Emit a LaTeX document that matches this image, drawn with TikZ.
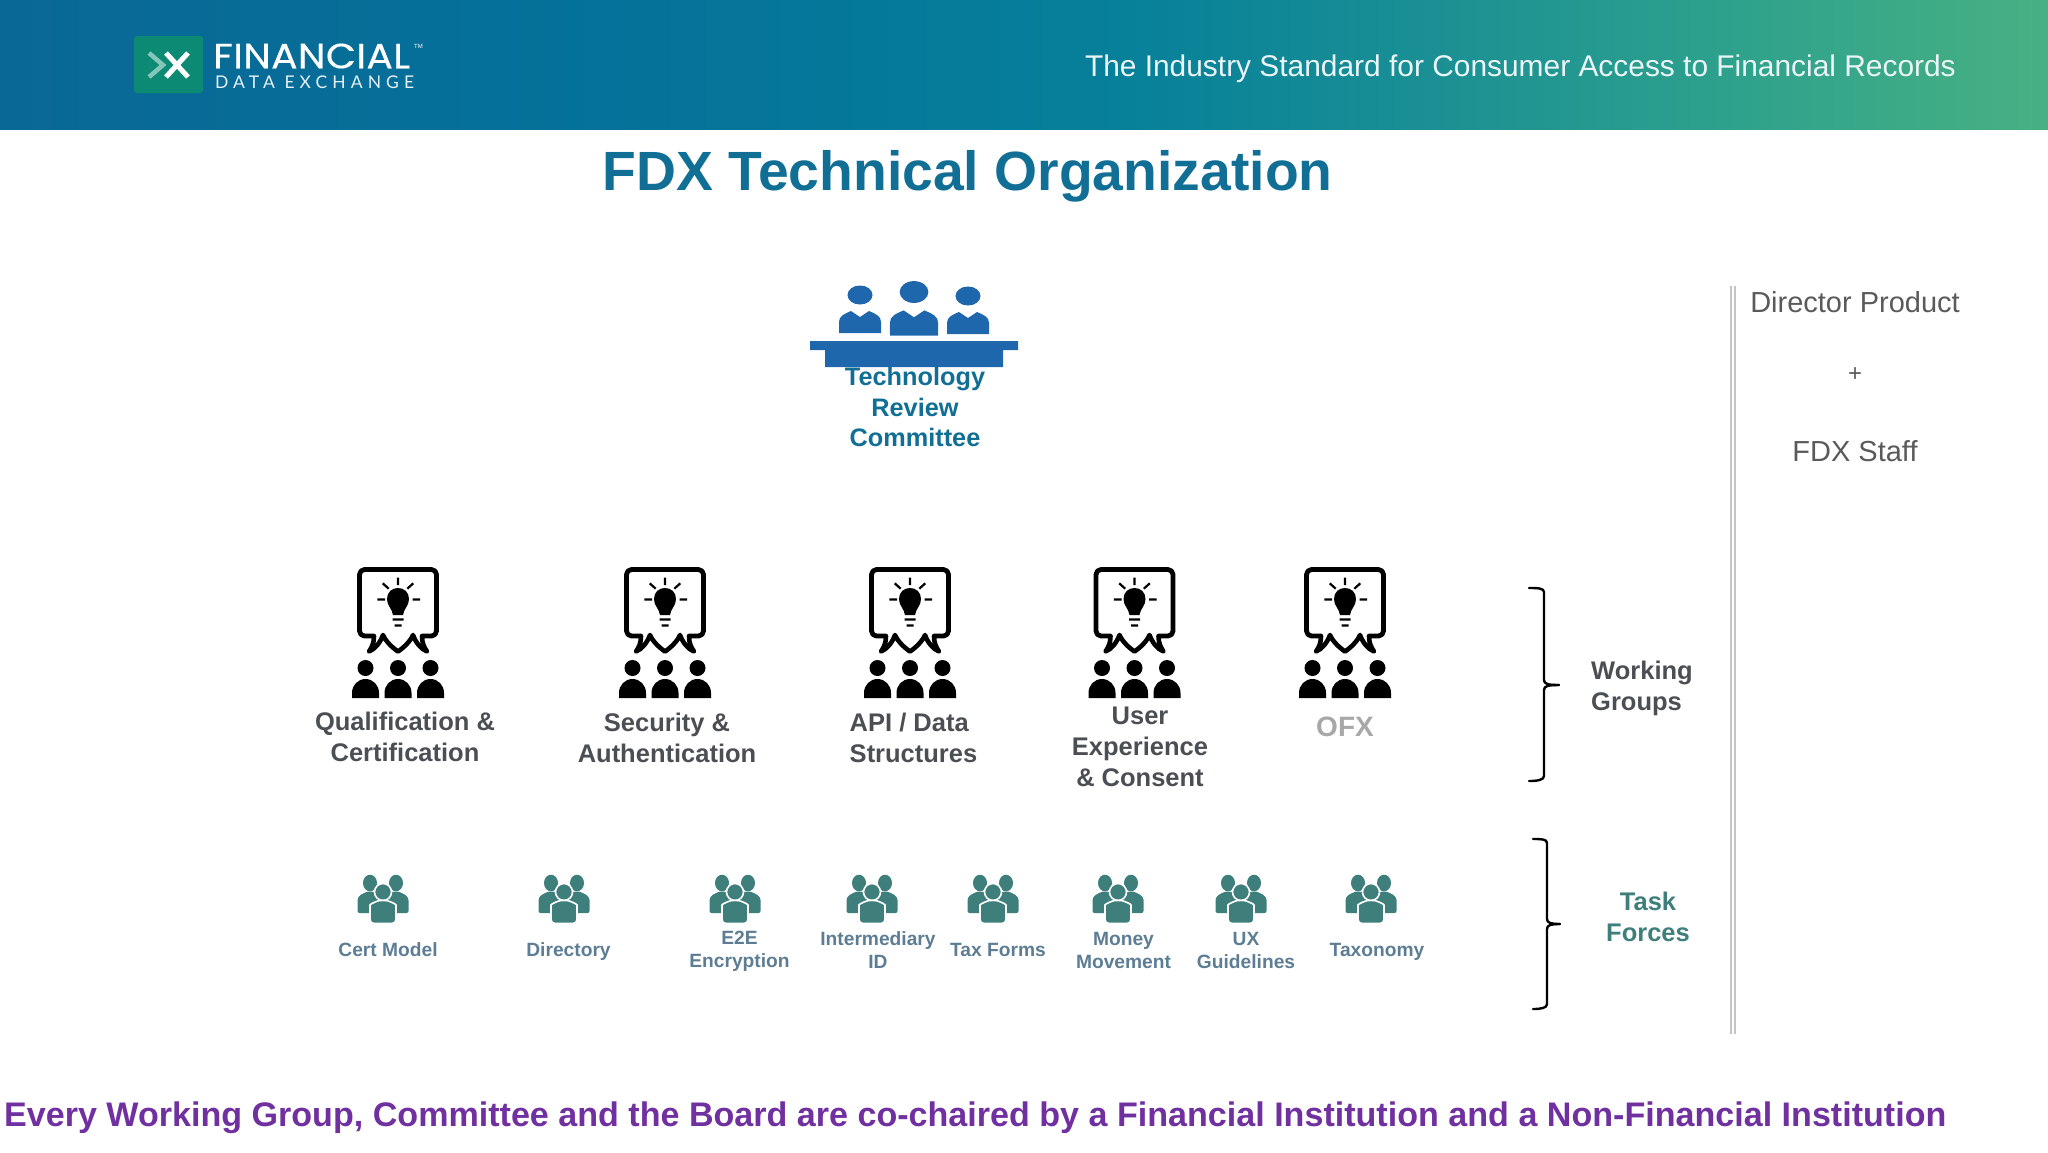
\documentclass[tikz,border=0pt]{standalone}
\usepackage{fontspec}
\setmainfont{Liberation Sans}
\newfontfamily\logofont[FakeStretch=1.12,LetterSpace=1,FakeBold=0.4]{Poppins}
\newfontfamily\logosub[LetterSpace=29]{Lato}
\usepackage{tikz}
\definecolor{hdrblue}{HTML}{0A6896}
\definecolor{hdrbluetwo}{HTML}{04729A}
\definecolor{hdrmid}{HTML}{07809A}
\definecolor{hdrteal}{HTML}{1A9094}
\definecolor{hdrleaf}{HTML}{2FA28C}
\definecolor{hdrgreen}{HTML}{48B183}
\definecolor{logogreen}{HTML}{0D8A73}
\definecolor{titleblue}{HTML}{116F95}
\definecolor{boardblue}{HTML}{1F67AD}
\definecolor{wgrey}{HTML}{4B4F54}
\definecolor{sidegrey}{HTML}{5A5A5A}
\definecolor{ofxgrey}{HTML}{A8A8A8}
\definecolor{tfgreen}{HTML}{3E7F7C}
\definecolor{tfblue}{HTML}{5C7D93}
\definecolor{ruleg}{HTML}{C4C4C4}
\definecolor{purp}{HTML}{7030A0}
\pgfdeclarehorizontalshading{hdrshade}{100bp}{color(0bp)=(hdrblue); color(25bp)=(hdrblue); color(40bp)=(hdrbluetwo); color(52.5bp)=(hdrmid); color(60bp)=(hdrteal); color(67.5bp)=(hdrleaf); color(75bp)=(hdrgreen); color(100bp)=(hdrgreen)}
\tikzset{
 wglabel/.style={align=center,font=\fontsize{25.5}{31}\selectfont\bfseries,text=wgrey,inner sep=0pt},
 tflabel/.style={align=center,font=\fontsize{19.2}{23}\selectfont\bfseries,text=tfblue,inner sep=0pt},
 sidelabel/.style={align=center,font=\fontsize{29}{35}\selectfont,text=sidegrey,inner sep=0pt},
 bracket/.style={line width=2.4pt,line join=round,line cap=round},
 boardperson/.pic={
  \fill[boardblue] (0,0) ellipse (12.5 and 9.5);
  \fill[boardblue] (-21,38) -- (-21,27) .. controls (-21,21) and (-16,19) .. (-9,16) -- (0,22) -- (9,16) .. controls (16,19) and (21,21) .. (21,27) -- (21,38) -- cycle;
 },
 wgicon/.pic={
  \draw[line width=4.8pt,line join=round,rounded corners=5pt] (-24,69) -- (-38.5,69) -- (-38.5,2.5) -- (38.5,2.5) -- (38.5,69) -- (24,69);
  \draw[line width=4.6pt,line join=round,line cap=round] (-24,69) .. controls (-24,76) and (-26,80) .. (-29,84.5) .. controls (-23,82) and (-18,76) .. (-15,68) .. controls (-12,75) and (-5,81) .. (0,84.5) .. controls (5,81) and (12,75) .. (15,68) .. controls (18,76) and (23,82) .. (29,84.5) .. controls (26,80) and (24,76) .. (24,69);
  \fill (-5,48) .. controls (-6,41) and (-11,39) .. (-11,32) .. controls (-11,25) and (-6,21) .. (0,21) .. controls (6,21) and (11,25) .. (11,32) .. controls (11,39) and (6,41) .. (5,48) -- cycle;
  \draw[line width=2.2pt] (-5.5,52.5) -- (5.5,52.5) (-3.5,58.5) -- (3.5,58.5) (0,10.5) -- (0,18) (-20.7,32.5) -- (-13,32.5) (14.7,32.5) -- (22,32.5) (-15.3,16.3) -- (-9.3,21.7) (15.3,16.3) -- (9.3,21.7);
  \fill (-32.5,101) circle (8) (0,101) circle (8) (32.5,101) circle (8);
  \fill (-46,131) -- (-46,126) .. controls (-46,118) and (-40,112) .. (-32.5,112) .. controls (-25,112) and (-19,118) .. (-19,126) -- (-19,131) -- cycle;
  \fill (-13.5,131) -- (-13.5,126) .. controls (-13.5,118) and (-7.5,112) .. (0,112) .. controls (7.5,112) and (13.5,118) .. (13.5,126) -- (13.5,131) -- cycle;
  \fill (19,131) -- (19,126) .. controls (19,118) and (25,112) .. (32.5,112) .. controls (40,112) and (46,118) .. (46,126) -- (46,131) -- cycle;
 },
 tficon/.pic={
  \fill[tfgreen] (-13,23) ellipse (7 and 8.3) (13,23) ellipse (7 and 8.3);
  \fill[tfgreen,rounded corners=2pt] (-25.5,53) -- (-25.5,42) .. controls (-25.5,36) and (-20,33) .. (-13,31) .. controls (-6,33) and (0,36) .. (0,42) -- (0,53) -- cycle;
  \fill[tfgreen,rounded corners=2pt] (0,53) -- (0,42) .. controls (0,36) and (6,33) .. (13,31) .. controls (20,33) and (25.5,36) .. (25.5,42) -- (25.5,53) -- cycle;
  \filldraw[fill=tfgreen,draw=white,line width=1.6pt] (0,32) circle (8.5);
  \filldraw[fill=tfgreen,draw=white,line width=1.6pt,rounded corners=4pt] (-13,63.5) -- (-13,49) .. controls (-13,44) and (-6,41) .. (0,40) .. controls (6,41) and (13,44) .. (13,49) -- (13,63.5) -- cycle;
 }
}
\begin{document}
\begin{tikzpicture}[x=1pt,y=-1pt]
\useasboundingbox (0,0) rectangle (2048,1152);
\shade[shading=hdrshade] (0,0) rectangle (2048,129);
\fill[logogreen,rounded corners=3pt] (134,36) rectangle (203,93);
\draw[white!50!logogreen,line width=4.5pt] (149,53) -- (163,65) -- (149,77);
\draw[white,line width=5pt] (166,53) -- (188,77) (188,53) -- (166,77);
\node[anchor=west,text=white,inner sep=0pt,font=\fontsize{35}{35}\logofont] (logoa) at (213,56) {FINANCIAL};
\node[anchor=south west,text=white,inner sep=0pt,font=\fontsize{6}{6}\selectfont] (logotm) at (414,49) {TM};
\node[anchor=west,text=white!90!hdrblue,inner sep=0pt,font=\fontsize{17.5}{18}\logosub] (logob) at (215,82) {DATA EXCHANGE};
\node[anchor=east,text=white!92!hdrmid,inner sep=0pt,font=\fontsize{29.9}{32}\selectfont] (tagline) at (1956,68.5) {The Industry Standard for Consumer Access to Financial Records};
\node[text=titleblue,inner sep=0pt,font=\fontsize{55.3}{60}\selectfont\bfseries] (title) at (967.5,176) {FDX Technical Organization};

\pic at (860,295) {boardperson};
\pic[scale=1.15] at (914,292) {boardperson};
\pic at (968,296) {boardperson};
\fill[boardblue] (810,341) -- (1018,341) -- (1018,350) -- (1003,350) -- (1003,367) -- (825,367) -- (825,350) -- (810,350) -- cycle;
\node[align=center,text=titleblue,inner sep=0pt,font=\fontsize{25.3}{30.5}\selectfont\bfseries] (trc) at (915,407) {Technology\\Review\\Committee};

\pic at (398,567) {wgicon};
\pic at (665,567) {wgicon};
\pic at (910,567) {wgicon};
\pic at (1134.5,567) {wgicon};
\pic at (1345,567) {wgicon};
\node[wglabel] (qual) at (405,737) {Qualification \&\\Certification};
\node[wglabel] (sec) at (667,738) {Security \&\\Authentication};
\node[wglabel,align=left] (api) at (913.5,738) {API / Data\\Structures};
\node[wglabel] (ux) at (1140,747) {User\\Experience\\\& Consent};
\node[wglabel,text=ofxgrey,font=\fontsize{28}{31}\selectfont\bfseries] (ofx) at (1345,727) {OFX};

\pic at (383,860) {tficon};
\pic at (564,860) {tficon};
\pic at (735,860) {tficon};
\pic at (872,860) {tficon};
\pic at (993,860) {tficon};
\pic at (1118,860) {tficon};
\pic at (1241,860) {tficon};
\pic at (1371,860) {tficon};
\node[tflabel] (cert) at (388,950) {Cert Model};
\node[tflabel] (dir) at (568.5,952) {Directory};
\node[tflabel] (e2e) at (739.5,951.5) {E2E\\Encryption};
\node[tflabel] (iid) at (878,950) {Intermediary\\ID};
\node[tflabel] (tax) at (998,950) {Tax Forms};
\node[tflabel] (money) at (1123.5,950) {Money\\Movement};
\node[tflabel] (uxg) at (1246,950) {UX\\Guidelines};
\node[tflabel] (txn) at (1377,952) {Taxonomy};

\draw[bracket] (1529,588) .. controls (1537,588) and (1544,588) .. (1544,592) -- (1544,680) .. controls (1544,684) and (1548,685) .. (1559,685);
\draw[bracket] (1559,685) .. controls (1548,685) and (1544,686) .. (1544,690) -- (1544,776) .. controls (1544,780) and (1537,781) .. (1529,781);
\draw[bracket] (1533,839) .. controls (1541,839) and (1547,839) .. (1547,843) -- (1547,919) .. controls (1547,923) and (1551,924) .. (1560,924);
\draw[bracket] (1560,924) .. controls (1551,924) and (1547,925) .. (1547,929) -- (1547,1004) .. controls (1547,1008) and (1541,1009) .. (1533,1009);
\node[wglabel,align=left,anchor=west] (wg) at (1591,688) {Working\\Groups};
\node[wglabel,text=tfgreen] (tf) at (1648,917) {Task\\Forces};

\draw[ruleg,line width=2pt] (1731,286) -- (1731,1034);
\draw[ruleg,line width=2pt] (1734.5,286) -- (1734.5,1034);
\node[sidelabel] (dp) at (1855,302) {Director Product};
\node[sidelabel,font=\fontsize{24}{28}\selectfont] (plus) at (1855,375) {+};
\node[sidelabel] (staff) at (1855,451) {FDX Staff};

\node[anchor=west,text=purp,inner sep=0pt,font=\fontsize{34.08}{40}\selectfont\bfseries] (cochair) at (4,1118) {Every Working Group, Committee and the Board are co-chaired by a Financial Institution and a Non-Financial Institution};
\end{tikzpicture}
\end{document}
